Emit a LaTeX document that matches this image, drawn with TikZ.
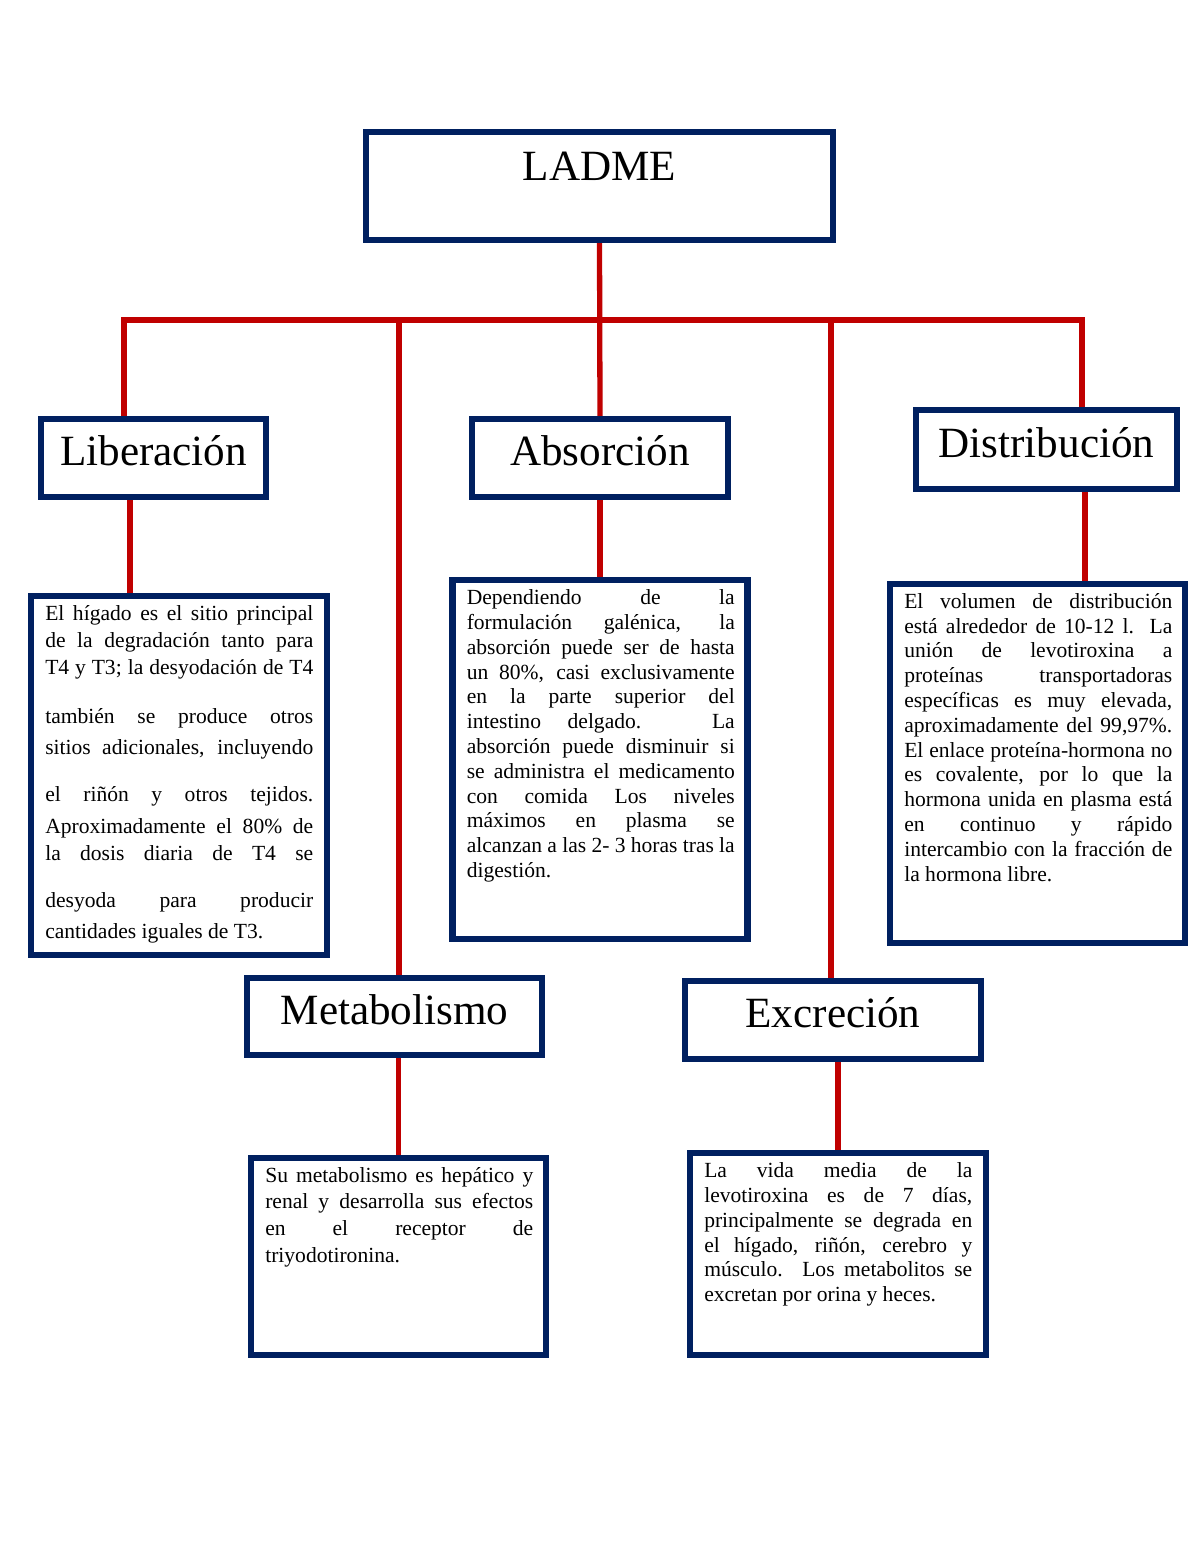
\documentclass[tikz,border=0pt]{standalone}
\usepackage{fontspec}
\setmainfont{Liberation Serif}
\usetikzlibrary{positioning}
\definecolor{azulmarco}{HTML}{002060}
\definecolor{rojolinea}{HTML}{C00000}
\tolerance=9999
\hbadness=10000
\hyphenpenalty=10000
\tikzset{boxsize/.style 2 args={minimum width=#1*0.51pt, minimum height=#2*0.51pt}}

\begin{document}
\begin{tikzpicture}[
			x=0.51pt, y=-0.51pt,
			heading/.style={draw=azulmarco, line width=3.2pt, rectangle, inner sep=0pt, font=\fontsize{22}{26}\selectfont, text height=15pt, text depth=7pt},
			panel/.style={draw=azulmarco, line width=3.2pt, rectangle, inner sep=0pt, boxsize={295}{359}},
			body/.style={anchor=north west, inner sep=0pt, text width=136.7pt, align=justify, font=\fontsize{11}{12.65}\selectfont},
			link/.style={draw=rojolinea, line width=2.7pt}
			]
			\path[use as bounding box, fill=white] (0,0) rectangle (1200,1553);
			
			% --- Encabezados (etapas LADME) ---
			\node[heading, boxsize={467}{108}, text depth=21pt] (ladme) at (599.5,186) {LADME};
			\node[heading, boxsize={225}{78}] (lib) at (153.5,458) {Liberación};
			\node[heading, boxsize={256}{78}] (abs) at (600,458) {Absorción};
			\node[heading, boxsize={261}{79}] (dist) at (1046.5,449.5) {Distribución};
			\node[heading, boxsize={295}{77}] (met) at (394.5,1016.5) {Metabolismo};
			\node[heading, boxsize={296}{78}] (exc) at (833,1020) {Excreción};
			
			% --- Cuadros de texto ---
			\node[panel, boxsize={296}{359}] (libTxt) at (179,775.5) {};
			\node[panel, below=39.3pt of abs] (absTxt) {};
			\node[panel] (distTxt) at (1037.5,763.5) {};
			\node[panel, boxsize={295}{197}] (metTxt) at (398.5,1256.5) {};
			\node[panel, boxsize={296}{202}] (excTxt) at (838,1254) {};
			
			\node[body, font=\fontsize{11}{13.8}\selectfont] (libBody) at ([shift={(17,9.4)}]libTxt.north west) {\rule{0pt}{9pt}El hígado es el sitio principal\linebreak de la degradación tanto para\linebreak T4 y T3; la desyodación de T4\vadjust{\vskip 11.2pt}\linebreak también se produce otros\vadjust{\vskip 2pt}\linebreak sitios adicionales, incluyendo\vadjust{\vskip 10.2pt}\linebreak el riñón y otros tejidos.\vadjust{\vskip 2.5pt}\linebreak Aproximadamente el 80\% de\linebreak la dosis diaria de T4 se\vadjust{\vskip 10.2pt}\linebreak desyoda para producir\vadjust{\vskip 2pt}\linebreak cantidades iguales de T3.};
			\node[body] (absBody) at ([shift={(17,9.4)}]absTxt.north west) {\rule{0pt}{9pt}Dependiendo de la\linebreak formulación galénica, la\linebreak absorción puede ser de hasta\linebreak un 80\%, casi exclusivamente\linebreak en la parte superior del\linebreak intestino delgado. La\linebreak absorción puede disminuir si\linebreak se administra el medicamento\linebreak con comida Los niveles\linebreak máximos en plasma se\linebreak alcanzan a las 2- 3 horas tras la\linebreak digestión.};
			\node[body] (distBody) at ([shift={(17,9.4)}]distTxt.north west) {\rule{0pt}{9pt}El volumen de distribución\linebreak está alrededor de 10-12 l. La\linebreak unión de levotiroxina a\linebreak proteínas transportadoras\linebreak específicas es muy elevada,\linebreak aproximadamente del 99,97\%.\linebreak El enlace proteína-hormona no\linebreak es covalente, por lo que la\linebreak hormona unida en plasma está\linebreak en continuo y rápido\linebreak intercambio con la fracción de\linebreak la hormona libre.};
			\node[body, font=\fontsize{11}{13.6}\selectfont] (metBody) at ([shift={(17,9.4)}]metTxt.north west) {\rule{0pt}{9pt}Su metabolismo es hepático y\linebreak renal y desarrolla sus efectos\linebreak en el receptor de\linebreak triyodotironina.};
			\node[body, font=\fontsize{11}{12.7}\selectfont] (excBody) at ([shift={(17,9.4)}]excTxt.north west) {\rule{0pt}{9pt}La vida media de la\linebreak levotiroxina es de 7 días,\linebreak principalmente se degrada en\linebreak el hígado, riñón, cerebro y\linebreak músculo. Los metabolitos se\linebreak excretan por orina y heces.};
			
			% --- Conectores rojos ---
			\coordinate (barL) at (124,320);
			\coordinate (barR) at (1082,320);
			\coordinate (barM) at (399,320);
			\coordinate (barE) at (831,320);
			\draw[link] (barL |- lib.north) -- (barL) -- (barR) -- (barR |- dist.north);
			\draw[link] (ladme.south) -- (abs.north);
			\draw[link] (barM) -- (barM |- met.north);
			\draw[link] (barE) -- (barE |- exc.north);
			
			\draw[link] ([xshift=-12pt]lib.south) -- ([xshift=-12pt]lib.south |- libTxt.north);
			\draw[link] (abs.south) -- (absTxt.north);
			\draw[link] ([xshift=19.6pt]dist.south) -- ([xshift=19.6pt]dist.south |- distTxt.north);
			\draw[link] (metTxt.north |- met.south) -- (metTxt.north);
			\draw[link] (excTxt.north |- exc.south) -- (excTxt.north);
			
		\end{tikzpicture}
\end{document}
